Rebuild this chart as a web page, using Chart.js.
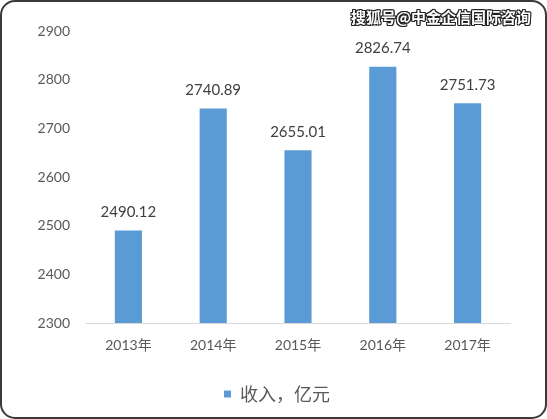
<!DOCTYPE html>
<html>
<head>
<meta charset="utf-8">
<script src="https://cdn.jsdelivr.net/npm/chart.js@4"></script>
<style>
  body { margin: 0; background: #fff; }
  #wrap { position: relative; width: 547px; height: 419px; }
  #frame {
    position: absolute; left: 0; top: 0; width: 547px; height: 419px;
    box-sizing: border-box; border: 2px solid #3a3a3a; border-radius: 15px;
    pointer-events: none;
  }
  #chart { position: absolute; left: 0; top: 0; }
  #mark {
    position: absolute; left: 351px; top: 6px;
    font: bold 15px "Noto Sans CJK SC", sans-serif; color: #fff;
    text-shadow: 1px 0 0 #222, -1px 0 0 #222, 0 1px 0 #222, 0 -1px 0 #222,
                 1px 1px 0 #222, -1px -1px 0 #222, 1px -1px 0 #222, -1px 1px 0 #222;
  }
</style>
</head>
<body>
<div id="wrap">
  <canvas id="chart" width="547" height="419"></canvas>
  <div id="frame"></div>
  <div id="mark">搜狐号@中金企信国际咨询</div>
</div>
<script>
/* data */
const YEARS = ['2013年', '2014年', '2015年', '2016年', '2017年'];
const REVENUE = [2490.12, 2740.89, 2655.01, 2826.74, 2751.73];
const SERIES_LABEL = '收入，亿元';
const Y_MIN = 2300;
const Y_MAX = 2900;
const Y_STEP = 100;

/* plugins */
const valueLabels = {
  id: 'valueLabels',
  afterDatasetsDraw: (chart) => {
    const ctx = chart.ctx;
    const meta = chart.getDatasetMeta(0);

    ctx.save();
    ctx.font = '15px Lato';
    ctx.fillStyle = '#404040';
    ctx.textAlign = 'center';
    ctx.textBaseline = 'middle';
    meta.data.forEach((bar, index) => {
      ctx.fillText(REVENUE[index].toFixed(2), bar.x, bar.y - 18);
    });
    ctx.restore();
  },
};

// legend sits a bit right of the canvas centre in the original
const legendShift = {
  id: 'legendShift',
  afterLayout: (chart) => {
    chart.legend.left += 22;
    chart.legend.right += 22;
  },
};

new Chart(document.querySelector('#chart'), {
  type: 'bar',
  data: {
    labels: YEARS,
    datasets: [{
      label: SERIES_LABEL,
      data: REVENUE,
      backgroundColor: '#5b9bd5',
      borderWidth: 0,
      barPercentage: 0.32,
      categoryPercentage: 1,
    }],
  },
  options: {
    responsive: false,
    animation: false,
    layout: {
      padding: { left: 0, right: 37, top: 31, bottom: 6 },
    },
    plugins: {
      tooltip: { enabled: false },
      legend: {
        position: 'bottom',
        labels: {
          boxWidth: 7,
          boxHeight: 7,
          padding: 10,
          color: '#595959',
          font: { family: '"Noto Sans CJK SC"', size: 18 },
        },
      },
    },
    scales: {
      x: {
        grid: { display: false, drawTicks: false },
        border: { color: '#d9d9d9', width: 1 },
        ticks: {
          padding: 14,
          color: '#595959',
          font: { family: 'Lato, "Noto Sans CJK SC"', size: 14 },
        },
        afterFit: (scale) => { scale.height = 52; },
      },
      y: {
        min: Y_MIN,
        max: Y_MAX,
        grid: { display: false, drawTicks: false },
        border: { display: false },
        ticks: {
          stepSize: Y_STEP,
          padding: 16,
          color: '#595959',
          font: { family: 'Lato', size: 14 },
          callback: (value) => value,
        },
        afterFit: (scale) => { scale.width = 86; },
      },
    },
  },
  plugins: [valueLabels, legendShift],
});
</script>
</body>
</html>
